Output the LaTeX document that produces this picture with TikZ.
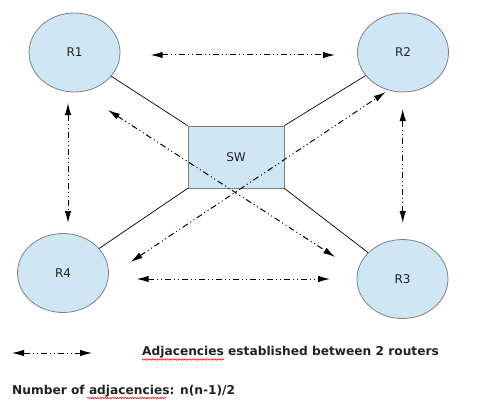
\documentclass[tikz,border=0pt]{standalone}
\usepackage{fontspec}
\setmainfont{DejaVu Sans}
\usetikzlibrary{arrows.meta,decorations.pathmorphing,shapes.geometric}
\definecolor{nodefill}{HTML}{CFE7F5}
\definecolor{nodeborder}{HTML}{808080}
\definecolor{textgray}{HTML}{222222}
\tikzset{
  router/.style={ellipse,draw=nodeborder,fill=nodefill,line width=0.8pt,minimum width=91pt,minimum height=79pt,inner sep=0pt,text=textgray,font=\fontsize{12}{14}\selectfont},
  swbox/.style={rectangle,draw=nodeborder,fill=nodefill,line width=0.8pt,minimum width=96pt,minimum height=62pt,inner sep=0pt,text=textgray,font=\fontsize{12}{14}\selectfont},
  link/.style={line width=0.7pt,black},
  adj/.style={line width=1pt,black,dash pattern=on 6pt off 3pt on 1pt off 3pt on 1pt off 3pt,{Latex[length=12pt,width=6.5pt]}-{Latex[length=12pt,width=6.5pt]}},
  legendtext/.style={anchor=west,inner sep=0pt,text=textgray,font=\bfseries\fontsize{12.2}{14}\selectfont},
  squiggle/.style={red,line width=0.5pt,decorate,decoration={zigzag,amplitude=0.8pt,segment length=2.5pt}}
}
\begin{document}
\begin{tikzpicture}[x=1pt,y=-1pt]
\useasboundingbox (0,0) rectangle (478,401);
\node[router] (R1) at (74.5,52.5) {R1};
\node[router] (R2) at (403,52.5) {R2};
\node[router] (R4) at (63,273) {R4};
\node[router] (R3) at (402.5,279) {R3};
\node[swbox] (SW) at (236,157) {SW};
% solid links
\draw[link] (R1) -- (SW.north west);
\draw[link] (R2) -- (SW.north east);
\draw[link] (R4) -- (SW.south west);
\draw[link] (R3) -- (SW.south east);
% adjacency coordinates
\coordinate (a12) at (150.7,55);
\coordinate (b12) at (335,55);
\coordinate (a14) at (68,103);
\coordinate (b14) at (68,223);
\coordinate (a23) at (402.7,109);
\coordinate (b23) at (402.7,223);
\coordinate (a43) at (136.7,279);
\coordinate (b43) at (330,279);
\coordinate (a13) at (108,110);
\coordinate (b13) at (335,257);
\coordinate (a42) at (130.7,262);
\coordinate (b42) at (385.7,92);
\draw[adj] (a12) -- (b12);
\draw[adj] (a14) -- (b14);
\draw[adj] (a23) -- (b23);
\draw[adj] (a43) -- (b43);
\draw[adj] (a13) -- (b13);
\draw[adj] (a42) -- (b42);
% legend
\coordinate (la) at (12,353);
\coordinate (lb) at (92,353);
\draw[adj] (la) -- (lb);
\node[legendtext] (lt) at (142,352) {Adjacencies established between 2 routers};
\node[legendtext] (nt) at (12,391.5) {Number of adjacencies: n(n-1)/2};
\coordinate (s1a) at (142,359.5);
\coordinate (s1b) at (224,359.5);
\coordinate (s2a) at (87,398);
\coordinate (s2b) at (166,398);
\draw[squiggle] (s1a) -- (s1b);
\draw[squiggle] (s2a) -- (s2b);
\end{tikzpicture}
\end{document}
